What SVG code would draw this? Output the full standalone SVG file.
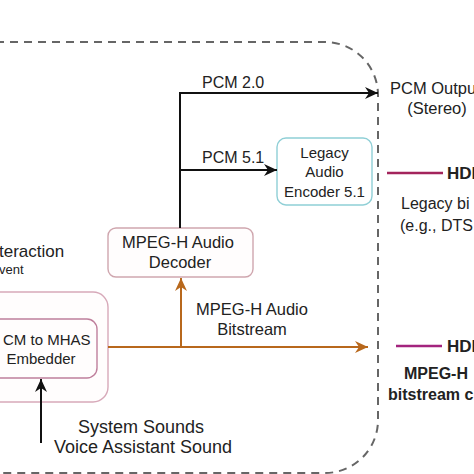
<svg xmlns="http://www.w3.org/2000/svg" width="474" height="474" viewBox="0 0 474 474">
<style>
text{font-family:"Liberation Sans",Arial,sans-serif;fill:#222;}
.l{font-size:16px;}
.b{font-size:16px;font-weight:bold;}
.box{fill:#fffdfd;stroke-width:1.4;}
.blk{fill:none;stroke:#111;stroke-width:2;}
.org{fill:none;stroke:#b8681c;stroke-width:2;}
</style>
<defs>
<marker id="ab" markerUnits="userSpaceOnUse" markerWidth="14" markerHeight="12" refX="13" refY="6" orient="auto">
<path d="M0,0 L13,6 L0,12 L4,6 Z" fill="#111"/>
</marker>
<marker id="ao" markerUnits="userSpaceOnUse" markerWidth="14" markerHeight="12" refX="13" refY="6" orient="auto">
<path d="M0,0 L13,6 L0,12 L4,6 Z" fill="#b8681c"/>
</marker>
</defs>
<rect width="474" height="474" fill="#fff"/>
<g id="boundary">
<path d="M-60,42 H325 A53,53 0 0 1 378,95 V420 A53,53 0 0 1 325,473 H-60" fill="none" stroke="#666" stroke-width="2" stroke-dasharray="8,6"/>
</g>
<g id="interaction">
<rect x="-40" y="292" width="148" height="110" rx="15" class="box" stroke="#d7a9b9"/>
<text x="-1" y="257" style="font-size:17px">teraction</text>
<text x="-1" y="274" style="font-size:13px">vent</text>
</g>
<g id="embedder">
<rect x="-40" y="319" width="137" height="59" rx="10" class="box" stroke="#bf7f9c"/>
<text x="3" y="345" style="font-size:15px">CM to MHAS</text>
<text x="41" y="364" style="font-size:15px" text-anchor="middle">Embedder</text>
</g>
<g id="decoder">
<rect x="108" y="228" width="145" height="49" rx="8" class="box" stroke="#cfa6ae"/>
<text x="178" y="248" style="font-size:16.5px" text-anchor="middle">MPEG-H Audio</text>
<text x="180" y="268" style="font-size:16.5px" text-anchor="middle">Decoder</text>
</g>
<g id="encoder">
<rect x="277" y="138" width="95" height="67" rx="9" fill="#fff" stroke="#8fcfd6" stroke-width="1.4"/>
<text x="324.5" y="158" style="font-size:15px" text-anchor="middle">Legacy</text>
<text x="324.5" y="177" style="font-size:15px" text-anchor="middle">Audio</text>
<text x="324.5" y="197" style="font-size:15px" text-anchor="middle">Encoder 5.1</text>
</g>
<g id="connectors">
<path d="M180,228 V93 H378" class="blk" marker-end="url(#ab)"/>
<path d="M180,170 H277" class="blk" marker-end="url(#ab)"/>
<path d="M108,347 H368" class="org" marker-end="url(#ao)"/>
<path d="M181,347 V278" class="org" marker-end="url(#ao)"/>
<path d="M41,443 V379" class="blk" marker-end="url(#ab)"/>
<path d="M387,173 H443" stroke="#a3245c" stroke-width="2.5" fill="none"/>
<path d="M396,346 H442" stroke="#a3247e" stroke-width="2.5" fill="none"/>
</g>
<g id="labels">
<text x="202" y="88" class="l">PCM 2.0</text>
<text x="202" y="163" class="l">PCM 5.1</text>
<text x="252" y="315" style="font-size:16.5px" text-anchor="middle">MPEG-H Audio</text>
<text x="252" y="335" style="font-size:16.5px" text-anchor="middle">Bitstream</text>
<text x="141" y="433" style="font-size:18px" text-anchor="middle">System Sounds</text>
<text x="143" y="453" style="font-size:18px" text-anchor="middle">Voice Assistant Sound</text>
<text x="390" y="94" style="font-size:16.5px">PCM Outpu</text>
<text x="437" y="114" style="font-size:16.5px" text-anchor="middle">(Stereo)</text>
<text x="447" y="179" style="font-size:17px;font-weight:bold">HDM</text>
<text x="401" y="209" class="l">Legacy bi</text>
<text x="400" y="231" class="l">(e.g., DTS</text>
<text x="447" y="352" style="font-size:17px;font-weight:bold">HDM</text>
<text x="404" y="379" class="b">MPEG-H</text>
<text x="388" y="400" class="b">bitstream c</text>
</g>
</svg>
